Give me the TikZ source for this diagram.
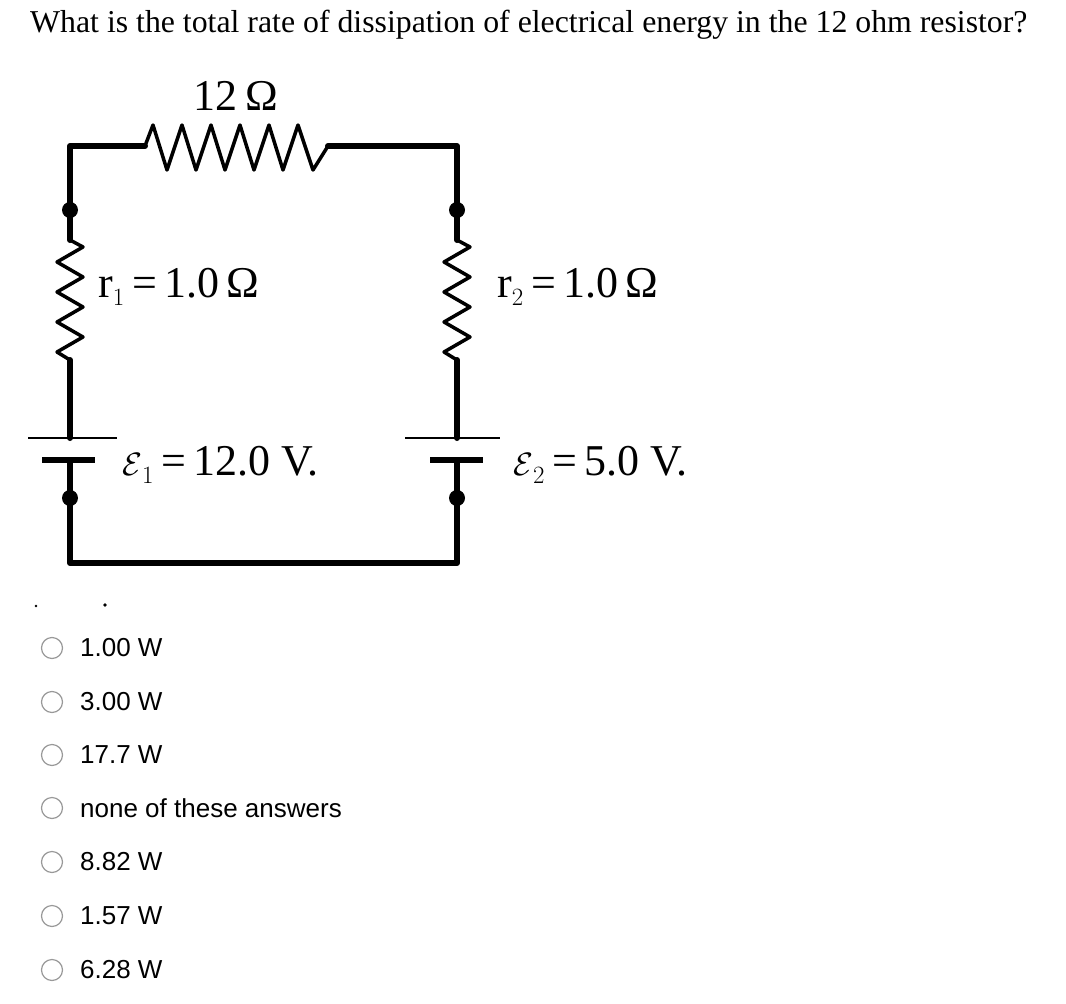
\documentclass[tikz,border=0pt]{standalone}
\usepackage{fontspec}
\setmainfont{Liberation Serif}
\newfontfamily\optfont{Liberation Sans}
\newcommand{\calE}{\scalebox{1.3}{$\mathcal{E}$}}
\begin{document}
\begin{tikzpicture}[x=1pt,y=-1pt,
  wire/.style={line width=6pt,line cap=round,line join=round},
  thin/.style={line width=3.5pt,line join=round,line cap=round},
  lbl/.style={font=\fontsize{44}{44}\selectfont,inner sep=0pt},
  opt/.style={font=\optfont\fontsize{26}{26}\selectfont,anchor=west,inner sep=0pt},
  radio/.style={circle,draw=gray!80,line width=1.2pt,minimum size=21pt,inner sep=0pt},
  jdot/.style={circle,fill=black,minimum size=16pt,inner sep=0pt}]
\useasboundingbox (0,0) rectangle (1066,1004);
\node[anchor=west,inner sep=0pt,font=\fontsize{31.8}{32}\selectfont] (q) at (30,25) {What is the total rate of dissipation of electrical energy in the 12 ohm resistor?};
\coordinate (tl) at (70,146); \coordinate (tr) at (457,146);
\coordinate (bl) at (70,563); \coordinate (br) at (457,563);
\draw[wire] (70,210) -- (tl) -- (145,146);
\draw[thin] (145,146) -- (153,125) -- (167,170) -- (182,125) -- (196,170) -- (211,125) -- (225,170) -- (240,125) -- (254,170) -- (269,125) -- (283,170) -- (298,125) -- (313,170) -- (328,146);
\draw[wire] (328,146) -- (tr) -- (457,210);
\node[lbl] (R) at (236,96) {12\,Ω};
\node[jdot] (d1) at (70,210) {};
\draw[wire] (70,210) -- (70,240);
\draw[thin] (70,240) -- (83,247) -- (57,262) -- (83,277) -- (57,292) -- (83,307) -- (57,322) -- (83,337) -- (57,352) -- (70,360);
\draw[wire] (70,360) -- (70,438);
\draw[line width=1.3pt] (28,438) -- (117,438);
\draw[line width=6pt] (42,460) -- (95,460);
\draw[wire] (70,460) -- (bl) -- (br) -- (457,460);
\node[jdot] (d2) at (70,498) {};
\node[jdot] (d3) at (457,210) {};
\draw[wire] (457,210) -- (457,240);
\draw[thin] (457,240) -- (470,247) -- (444,262) -- (470,277) -- (444,292) -- (470,307) -- (444,322) -- (470,337) -- (444,352) -- (457,360);
\draw[wire] (457,360) -- (457,438);
\draw[line width=1.3pt] (405,438) -- (500,438);
\draw[line width=6pt] (430,460) -- (483,460);
\node[jdot] (d4) at (457,498) {};
\node[lbl,anchor=west] (r1) at (98,287) {r$_1$\,=\,1.0\,Ω};
\node[lbl,anchor=west] (r2) at (497,287) {r$_2$\,=\,1.0\,Ω};
\node[lbl,anchor=west] (e1) at (122,465) {\calE$_1$\,=\,12.0 V.};
\node[lbl,anchor=west] (e2) at (513,465) {\calE$_2$\,=\,5.0 V.};
\fill (36,606) circle (1.3pt);
\fill (105,605) circle (1.8pt);
\foreach \y/\t [count=\i] in {648/1.00 W,702/3.00 W,755/17.7 W,808/none of these answers,862/8.82 W,916/1.57 W,970/6.28 W}{
  \node[radio] (c\i) at (52,\y) {};
  \node[opt] (o\i) at (80,\y) {\t};
}
\end{tikzpicture}
\end{document}
